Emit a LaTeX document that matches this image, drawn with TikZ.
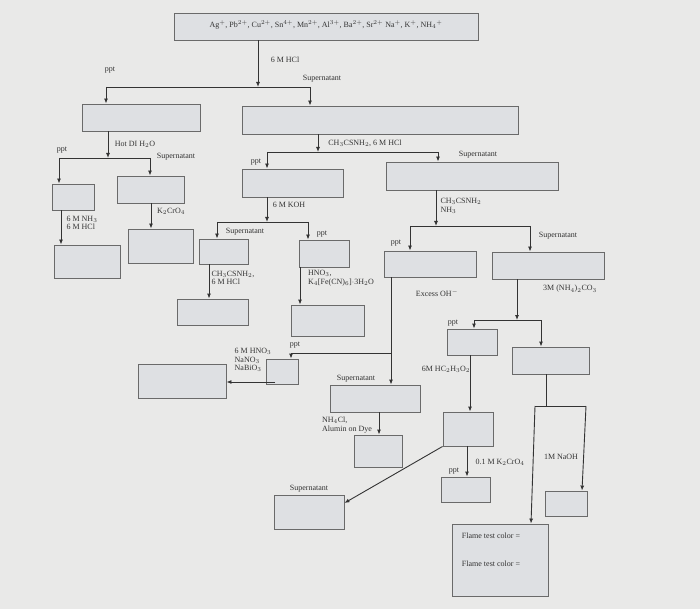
\documentclass[tikz,border=0pt]{standalone}
\usepackage{fontspec}
\setmainfont{Liberation Serif}
\usetikzlibrary{fit,arrows.meta}
\definecolor{bg}{HTML}{E9E9E8}
\definecolor{boxf}{HTML}{DEE0E3}
\definecolor{boxd}{HTML}{6A6A6A}
\definecolor{ln}{HTML}{333333}
\tikzset{
 bx/.style={draw=boxd,fill=boxf,line width=0.9pt,inner sep=0pt},
 con/.style={draw=ln,line width=0.9pt},
 arr/.style={con,-{Latex[length=5pt,width=4pt]}},
 lb/.style={font=\fontsize{8}{8.5}\selectfont,text=ln,inner sep=1pt,align=left},
}
\begin{document}
\begin{tikzpicture}[x=1pt,y=-1pt]
\fill[bg] (0,0) rectangle (700,609);
\useasboundingbox (0,0) rectangle (700,609);
% boxes
\node[bx,fit={(174,13)(478,40)}] (top) {};
\node[lb] at (326,25) {Ag$^{+}$, Pb$^{2+}$, Cu$^{2+}$, Sn$^{4+}$, Mn$^{2+}$, Al$^{3+}$, Ba$^{2+}$, Sr$^{2+}$ Na$^{+}$, K$^{+}$, NH$_{4}{}^{+}$};
\node[bx,fit={(82,104)(200,131)}] (b1) {};
\node[bx,fit={(242,106)(518,134)}] (b2) {};
\node[bx,fit={(52,184)(94,210)}] (b3) {};
\node[bx,fit={(117,176)(184,203)}] (b4) {};
\node[bx,fit={(54,245)(120,278)}] (b5) {};
\node[bx,fit={(128,229)(193,263)}] (b6) {};
\node[bx,fit={(242,169)(343,197)}] (b7) {};
\node[bx,fit={(386,162)(558,190)}] (b8) {};
\node[bx,fit={(199,239)(248,264)}] (b9) {};
\node[bx,fit={(299,240)(349,267)}] (b10) {};
\node[bx,fit={(177,299)(248,325)}] (b11) {};
\node[bx,fit={(291,305)(364,336)}] (b12) {};
\node[bx,fit={(384,251)(476,277)}] (b13) {};
\node[bx,fit={(492,252)(604,279)}] (b14) {};
\node[bx,fit={(266,359)(298,384)}] (b15) {};
\node[bx,fit={(138,364)(226,398)}] (b16) {};
\node[bx,fit={(330,385)(420,412)}] (b17) {};
\node[bx,fit={(447,329)(497,355)}] (b18) {};
\node[bx,fit={(512,347)(589,374)}] (b19) {};
\node[bx,fit={(354,435)(402,467)}] (b20) {};
\node[bx,fit={(443,412)(493,446)}] (b21) {};
\node[bx,fit={(441,477)(490,502)}] (b22) {};
\node[bx,fit={(545,491)(587,516)}] (b23) {};
\node[bx,fit={(274,495)(344,529)}] (b24) {};
\node[bx,fit={(452,524)(548,596)}] (b25) {};
% junction coordinates
\coordinate (j1) at (258,87);
\coordinate (j2) at (108,158);
\coordinate (j3) at (318,152);
\coordinate (j4) at (267,222);
\coordinate (j5) at (436,226);
\coordinate (j6) at (391,353);
\coordinate (j7) at (517,320);
\coordinate (j8) at (546,406);
\coordinate (s15) at (275,382);
% connectors
\draw[arr] (top.south -| j1) -- (j1);
\draw[con] (106,87) coordinate (l1) -- (310,87) coordinate (r1);
\draw[arr] (l1) -- (l1 |- b1.north);
\draw[arr] (r1) -- (r1 |- b2.north);
\draw[arr] (b1.south -| j2) -- (j2);
\draw[con] (59,158) coordinate (l2) -- (150,158) coordinate (r2);
\draw[arr] (l2) -- (l2 |- b3.north);
\draw[arr] (r2) -- (r2 |- b4.north);
\draw[arr] (b3.south -| 61,0) -- (61,0 |- b5.north);
\draw[arr] (b4.south -| 151,0) -- (151,0 |- b6.north);
\draw[arr] (b2.south -| j3) -- (j3);
\draw[con] (267,152) coordinate (l3) -- (438,152) coordinate (r3);
\draw[arr] (l3) -- (l3 |- b7.north);
\draw[arr] (r3) -- (r3 |- b8.north);
\draw[arr] (b7.south -| j4) -- (j4);
\draw[con] (217,222) coordinate (l4) -- (308,222) coordinate (r4);
\draw[arr] (l4) -- (l4 |- b9.north);
\draw[arr] (r4) -- (r4 |- b10.north);
\draw[arr] (b9.south -| 209,0) -- (209,0 |- b11.north);
\draw[arr] (b10.south -| 300,0) -- (300,0 |- b12.north);
\draw[arr] (b8.south -| j5) -- (j5);
\draw[con] (410,226) coordinate (l5) -- (530,226) coordinate (r5);
\draw[arr] (l5) -- (l5 |- b13.north);
\draw[arr] (r5) -- (r5 |- b14.north);
\draw[con] (b13.south -| j6) -- (j6);
\draw[arr] (j6) -- (j6 |- b17.north);
\draw[con] (j6) -- (291,353) coordinate (l6);
\draw[arr] (l6) -- (l6 |- b15.north);
\draw[arr] (s15) -- (s15 -| b16.east);
\draw[arr] (b17.south -| 379,0) -- (379,0 |- b20.north);
\draw[arr] (b14.south -| j7) -- (j7);
\draw[con] (474,320) coordinate (l7) -- (541,320) coordinate (r7);
\draw[arr] (l7) -- (l7 |- b18.north);
\draw[arr] (r7) -- (r7 |- b19.north);
\draw[arr] (b18.south -| 470,0) -- (470,0 |- b21.north);
\draw[con] (b19.south -| j8) -- (j8);
\draw[con] (535,406) coordinate (l8) -- (586,406) coordinate (r8);
\draw[arr] (l8) -- (531,0 |- b25.north);
\draw[arr] (r8) -- (582,0 |- b23.north);
\draw[arr] (b21.south -| 467,0) -- (467,0 |- b22.north);
\draw[arr] (b21.south west) -- (b24.east |- 0,503);
% labels
\node[lb] at (285,60) {6 M HCl};
\node[lb] at (322,79) {Supernatant};
\node[lb] at (110,70) {ppt};
\node[lb] at (135,144) {Hot DI H$_2$O};
\node[lb] at (62,150) {ppt};
\node[lb] at (176,157) {Supernatant};
\node[lb] at (82,223) {6 M NH$_3$\\6 M HCl};
\node[lb] at (171,211) {K$_2$CrO$_4$};
\node[lb] at (365,143) {CH$_3$CSNH$_2$, 6 M HCl};
\node[lb] at (256,162) {ppt};
\node[lb] at (478,155) {Supernatant};
\node[lb] at (289,205) {6 M KOH};
\node[lb] at (245,232) {Supernatant};
\node[lb] at (322,234) {ppt};
\node[lb] at (233,278) {CH$_3$CSNH$_2$,\\6 M HCl};
\node[lb] at (341,278) {HNO$_3$,\\K$_4$[Fe(CN)$_6$]$\cdot$3H$_2$O};
\node[lb] at (461,206) {CH$_3$CSNH$_2$\\NH$_3$};
\node[lb] at (396,243) {ppt};
\node[lb] at (558,236) {Supernatant};
\node[lb] at (437,293) {Excess OH$^-$};
\node[lb] at (570,289) {3M (NH$_4$)$_2$CO$_3$};
\node[lb] at (453,323) {ppt};
\node[lb] at (295,345) {ppt};
\node[lb] at (253,360) {6 M HNO$_3$\\NaNO$_3$\\NaBiO$_3$};
\node[lb] at (356,379) {Supernatant};
\node[lb] at (446,369) {6M HC$_2$H$_3$O$_2$};
\node[lb] at (347,425) {NH$_4$Cl,\\Alumin on Dye};
\node[lb] at (500,462) {0.1 M K$_2$CrO$_4$};
\node[lb] at (454,471) {ppt};
\node[lb] at (561,457) {1M NaOH};
\node[lb] at (309,489) {Supernatant};
\node[lb] at (491,536) {Flame test color =};
\node[lb] at (491,564) {Flame test color =};
\end{tikzpicture}
\end{document}
